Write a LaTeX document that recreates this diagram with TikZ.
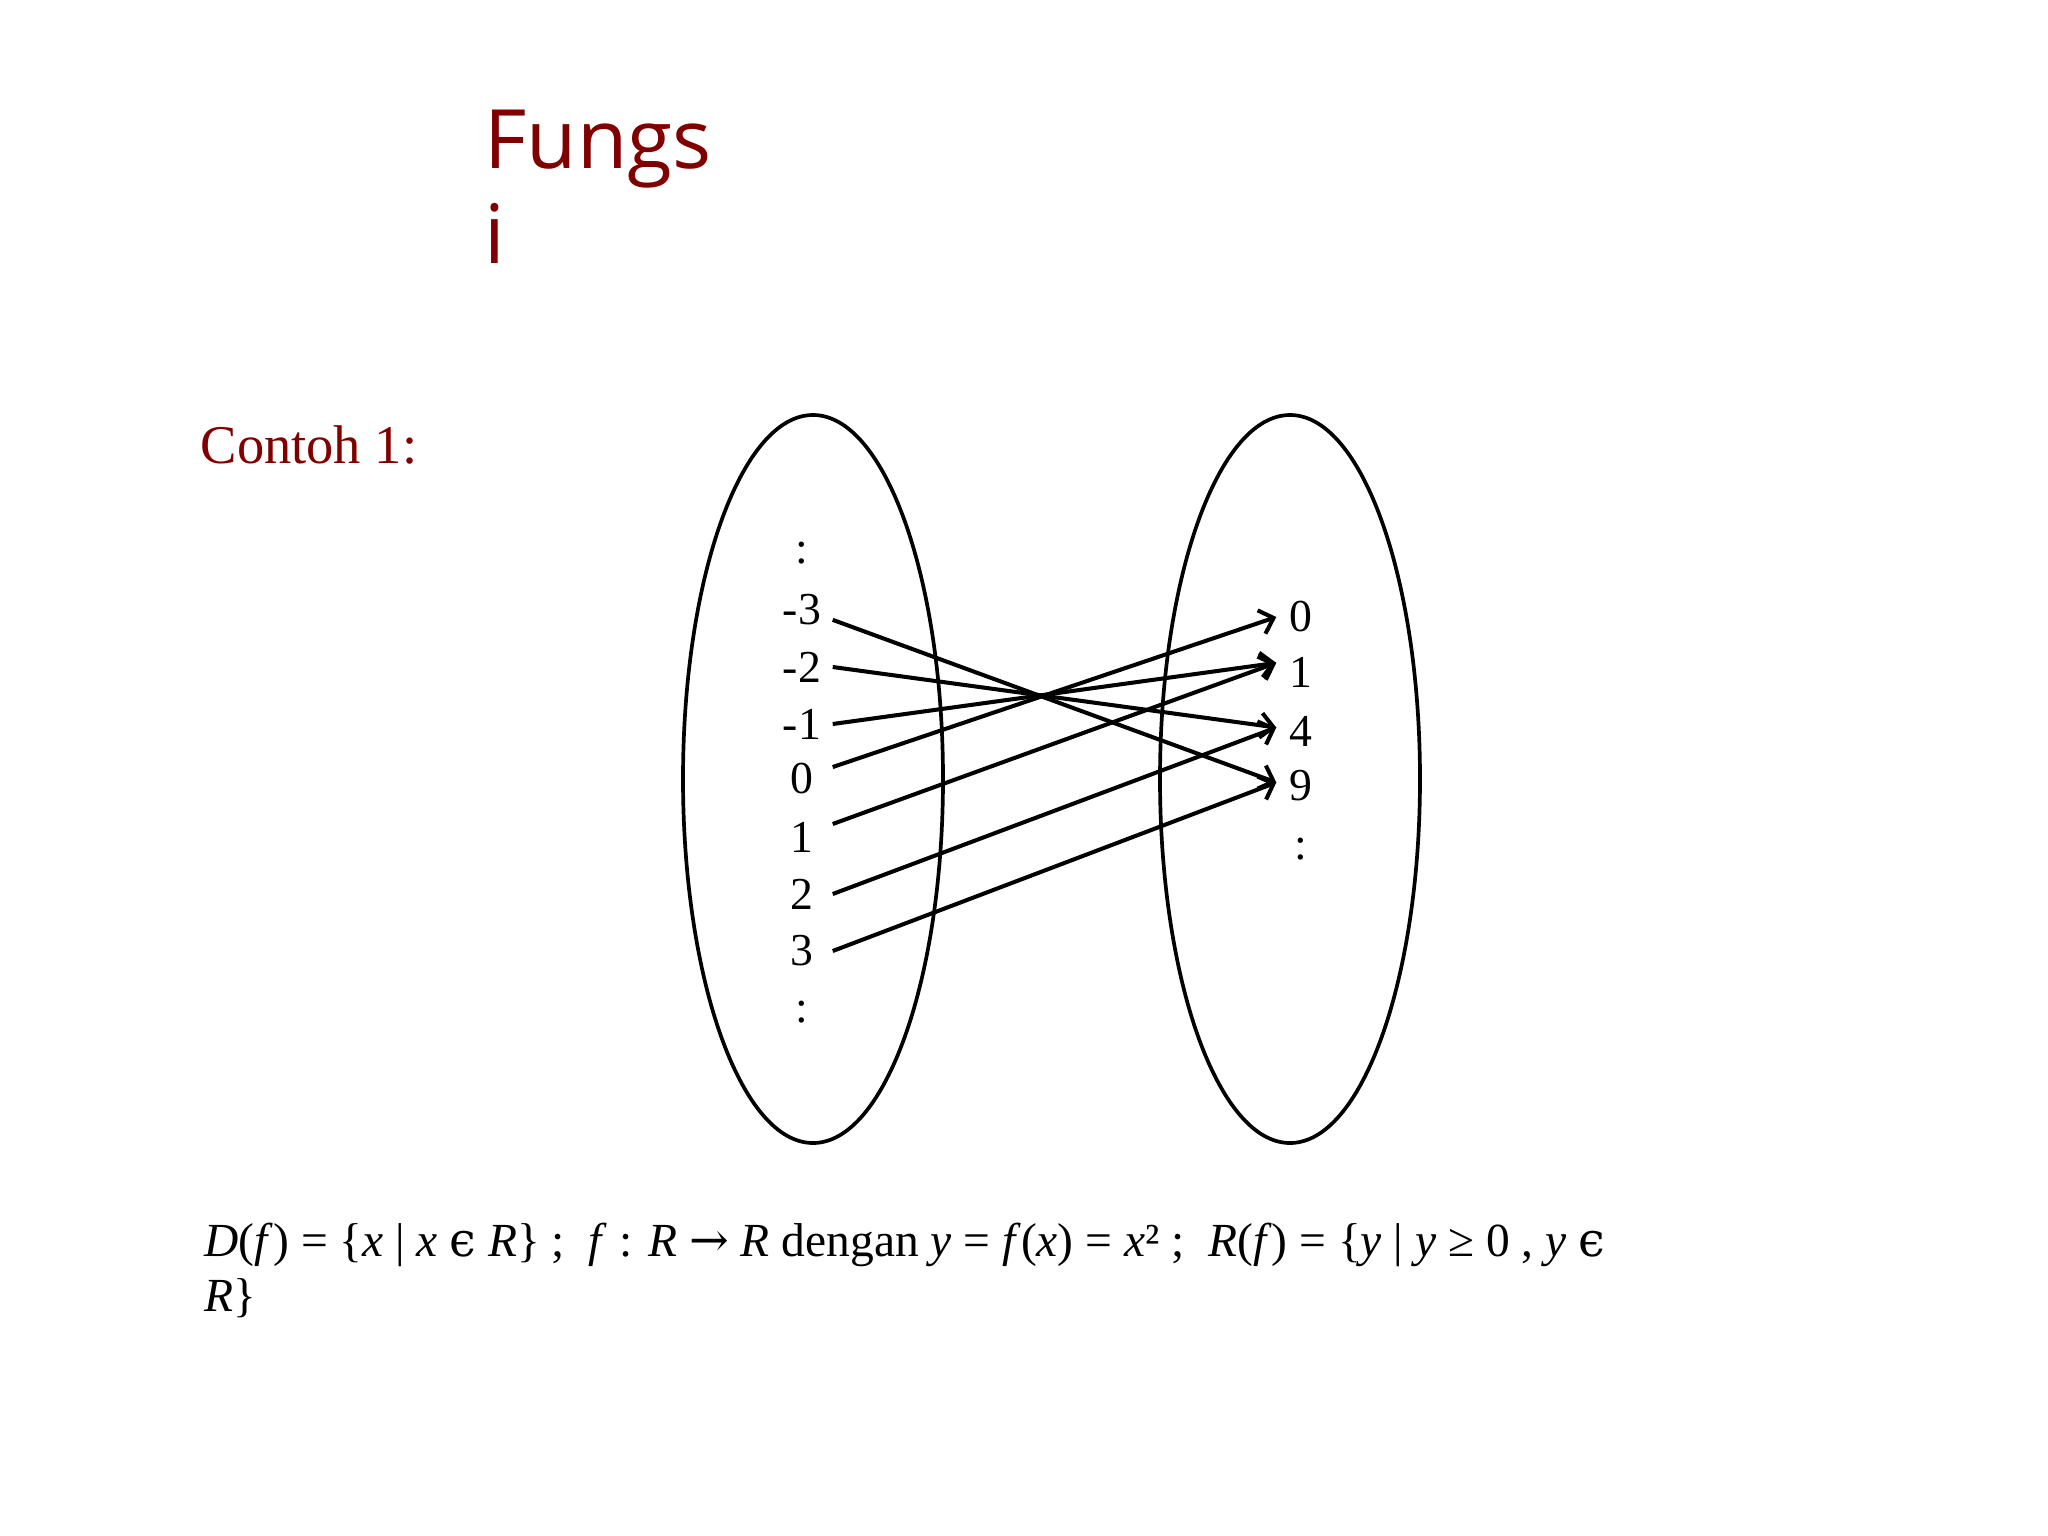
\documentclass[tikz,border=0pt]{standalone}
\usepackage{fontspec}
\usetikzlibrary{arrows.meta}
\setmainfont{Liberation Serif}
\newfontfamily\judulfont{Open Sans}
\newfontfamily\epsfont{DejaVu Serif}
\definecolor{merahtua}{RGB}{128,0,0}
\tikzset{
  asal/.style={minimum width=0.6cm, inner sep=0pt, font=\fontsize{13}{15}\selectfont},
  kawan/.style={minimum width=0.48cm, inner sep=0pt, font=\fontsize{13}{15}\selectfont},
  himpunan/.style={line width=1.05pt},
  panah/.style={-{Straight Barb[length=3.6pt,width=7pt]}, line width=1.15pt},
}
\begin{document}
\begin{tikzpicture}[x=0.01cm, y=-0.01cm]
      \useasboundingbox (0,0) rectangle (2048,1536);
      % judul dan contoh
      \node[anchor=base west, inner sep=0pt, align=left, text=merahtua,
            font=\judulfont\fontsize{23.3}{27}\selectfont] (judul) at (484,263) {Fungs\\i};
      \node[anchor=base west, inner sep=0pt, text=merahtua,
            font=\fontsize{15.5}{18}\selectfont] (contoh) at (200,463) {Contoh 1:};
      % dua himpunan
      \draw[himpunan] (813,779) ellipse [x radius=130, y radius=364];
      \draw[himpunan] (1290,779) ellipse [x radius=130, y radius=364];
      % domain
      \draw
        (802,553) node[asal] (ta){:}
        (802,610) node[asal] (m3){-3}
        (802,667) node[asal] (m2){-2}
        (802,724) node[asal] (m1){-1}
        (802,779) node[asal] (n0){0}
        (802,837) node[asal] (n1){1}
        (802,894) node[asal] (n2){2}
        (802,951) node[asal] (n3){3}
        (802,1012) node[asal] (tb){:};
      % kodomain
      \draw
        (1301,617) node[kawan] (k0){0}
        (1301,672) node[kawan] (k1){1}
        (1301,731) node[kawan] (k4){4}
        (1301,786) node[kawan] (k9){9}
        (1301,849) node[kawan] (tk){:};
      \begin{scope}[panah]
        \draw ([yshift=-2.8pt]m3.east) to ([yshift=1pt]k9.west);
        \draw (m2.east) to ([yshift=1pt]k4.west);
        \draw (m1.east) to ([yshift=2.6pt]k1.west);
        \draw ([yshift=3.4pt]n0.east) to (k0.west);
        \draw ([yshift=3.7pt]n1.east) to ([yshift=2.6pt]k1.west);
        \draw (n2.east) to ([yshift=1pt]k4.west);
        \draw (n3.east) to ([yshift=1pt]k9.west);
      \end{scope}
      % rumus
      \node[anchor=base west, inner sep=0pt, align=left,
            font=\fontsize{13.5}{15.6}\selectfont] (rumus) at (204,1311)
        {\textit{D}(\textit{f}) = \{\textit{x} | \textit{x} {\epsfont ϵ} \textit{R}\} ;\ \ \textit{f} : \textit{R} {\epsfont →} \textit{R} dengan \textit{y} = \textit{f}(\textit{x}) = \textit{x}² ;\ \ \textit{R}(\textit{f}) = \{\textit{y} | \textit{y} ≥ 0 , \textit{y} {\epsfont ϵ}\\\textit{R}\}};
    \end{tikzpicture}
\end{document}
